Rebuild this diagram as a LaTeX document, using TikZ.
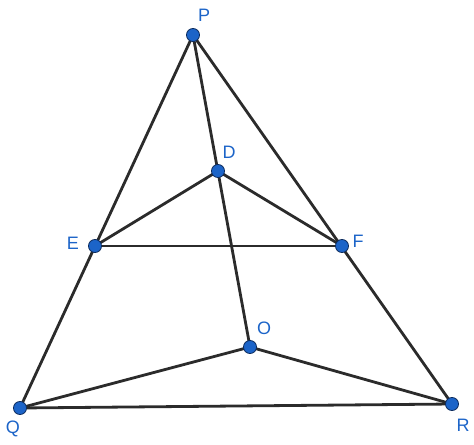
\documentclass[tikz,border=0pt]{standalone}
\usepackage{fontspec}
\setmainfont{Liberation Sans}
\definecolor{ptblue}{HTML}{1C64C8}
\definecolor{ptedge}{HTML}{0D2B5C}
\definecolor{segcol}{HTML}{2B2B2B}
\tikzset{
  seg/.style={draw=segcol, line width=2.1pt, line join=round},
  pt/.style={circle, fill=ptblue, draw=ptedge, line width=0.6pt, inner sep=0pt, minimum size=9.8pt},
  lbl/.style={text=ptblue, font=\fontsize{13.5}{16}\selectfont, inner sep=0pt}
}
\begin{document}
\begin{tikzpicture}[x=0.75pt, y=-0.75pt]
                \useasboundingbox (0,0) rectangle (474,445);
                % Points
                \coordinate (P) at (193,35);
                \coordinate (Q) at (20,408);
                \coordinate (R) at (452,404);
                \coordinate (E) at (95,246);
                \coordinate (F) at (342,246);
                \coordinate (D) at (218,171);
                \coordinate (O) at (250,347);
                
                % Triangle PQR
                \draw[seg] (P) -- (Q) -- (R) -- cycle;
                
                % Inner segments
                \draw[seg] (E) -- (F);
                \draw[seg] (E) -- (D) -- (F);
                \draw[seg] (P) -- (O);
                \draw[seg] (Q) -- (O) -- (R);
                
                % Dots
                \foreach \p in {P,Q,R,E,F,D,O}
                  \node[pt] (dot\p) at (\p) {};
                
                % Labels
                \node[lbl] (labP) at (204,15) {P};
                \node[lbl] (labQ) at (13,429) {Q};
                \node[lbl] (labR) at (463,425) {R};
                \node[lbl] (labE) at (73,243) {E};
                \node[lbl] (labF) at (358,241) {F};
                \node[lbl] (labD) at (229,152) {D};
                \node[lbl] (labO) at (264,328) {O};
            \end{tikzpicture}
\end{document}
